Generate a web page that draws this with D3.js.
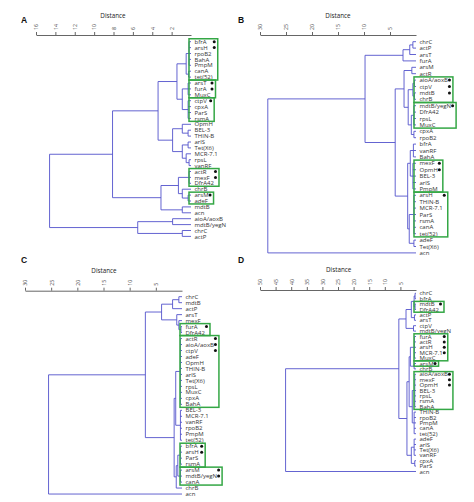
<!DOCTYPE html>
<html><head><meta charset="utf-8">
<script src="https://cdn.jsdelivr.net/npm/d3@7"></script>
<style>body{margin:0;background:#fff}</style>
</head><body>
<svg id="c" width="474" height="502"></svg>
<script>
// ---- DATA: trees as [mergeHeight, child, child, ...]; leaves are strings ----
const treeA = [14.6,
  [8.1,
    [3.4,
      [1.45,
        [0.5, [0.2,"bfrA","arsH","rpoB2","BahA","PmpM"], [0.25,"canA","tet(52)"]],
        [0.9, [0.3,"arsT","furA","MuxC"], [0.3,"ctpV","cpxA","ParS","rsmA"]]
      ],
      [1.9,
        [0.9,"OpmH",[0.3,"BEL-3","THIN-B"]],
        [0.9,[0.3,"arlS","Tet(X6)"],[0.5,"MCR-7.1",[0.2,"rpsL","vanRF"]]]
      ]
    ],
    [3.1,
      [1.3,[0.2,"actR","mexF","DfrA42"],[0.9,"chrB",[0.3,"arsM","adeF"]]],
      [0.9,"mdtB","acn"]
    ]
  ],
  [5.5,[1.9,"aioA/aoxB","mdtB/yegN"],[0.9,"chrC","actP"]]
];
const boxesA = [["bfrA","tet(52)"],["arsT","MuxC"],["ctpV","rsmA"],["actR","DfrA42"],["arsM","adeF"]];
const dotsA = ["bfrA","arsH","arsT","furA","ctpV","actR","mexF","arsM"];
const ticksA = [16,14,12,10,8,6,4,2];

const treeB = [28.5,
  [9.8,
    [2.5,[1.2,[0.6,"chrC","actP"],"arsT"],"furA"],
    [4.0,
      [2.3,
        [0.8,"arsM","actR"],
        [1.5,
          [0.6,[0.3,"aioA/aoxB","ctpV"],[0.3,"mdtB","chrB"]],
          [0.9,[0.4,"mdtB/yegN","DfrA42","rpsL","MuxC"],[0.4,"cpxA","rpoB2"]]
        ]
      ],
      [1.6,
        [1.1,[0.5,"bfrA","vanRF","BahA"],[0.6,"mexF","OpmH","BEL-3","arlS","PmpM"]],
        [1.3,[0.4,"arsH","THIN-B","MCR-7.1","ParS","rsmA","canA","tet(52)"],[0.4,"adeF","Tet(X6)"]]
      ]
    ]
  ],
  "acn"
];
const boxesB = [["aioA/aoxB","chrB"],["mdtB/yegN","MuxC"],["mexF","PmpM"],["arsH","tet(52)"]];
const dotsB = ["aioA/aoxB","ctpV","mdtB","mdtB/yegN","mexF","OpmH","arsH"];
const ticksB = [30,25,20,15,10,5];

const treeC = [25.5,
  [7.0,
    [3.9,[1.8,[0.6,"chrC","mdtB"],"actP"],[1.0,"arsT",[0.6,"mexF",[0.2,"furA","DfrA42"]]]],
    [1.5,
      [1.2,[0.3,"actR","aioA/aoxB","ctpV","adeF","OpmH","THIN-B","arlS","Tet(X6)","rpsL","MuxC","cpxA","BahA"],
           [0.3,"BEL-3","MCR-7.1","vanRF","rpoB2","PmpM","tet(52)"]],
      [1.1,[0.8,[0.3,"bfrA","arsH","ParS","rsmA"],[0.3,"arsM","mdtB/yegN","canA"]],"chrB"]
    ]
  ],
  "acn"
];
const boxesC = [["furA","DfrA42"],["actR","BahA"],["bfrA","rsmA"],["arsM","canA"]];
const dotsC = ["furA","actR","aioA/aoxB","ctpV","bfrA","arsH","arsM","mdtB/yegN"];
const ticksC = [30,25,20,15,10,5];

const treeD = [41.8,
  [5.5,
    [3.2,[1.5,[0.6,[0.3,"chrC","bfrA"],[0.3,"mdtB","DfrA42"]],[0.5,"actP","arsT"]],[0.8,"ctpV","mdtB/yegN"]],
    [2.9,
      [2.2,
        [1.8,[0.5,"furA","actR","arsH","MCR-7.1","MuxC"],[0.6,"arsM","chrB"]],
        [1.2,[0.4,"aioA/aoxB","mexF","OpmH","BEL-3","rpsL","rsmA","BahA"],[0.6,"THIN-B","rpoB2","PmpM","canA","tet(52)"]]
      ],
      [1.5,[0.6,"adeF","arlS","Tet(X6)","vanRF"],[0.4,"cpxA","ParS"]]
    ]
  ],
  "acn"
];
const boxesD = [["mdtB","DfrA42"],["furA","MuxC"],["arsM","arsM"],["aioA/aoxB","BahA"]];
const dotsD = ["mdtB","furA","actR","arsH","MCR-7.1","arsM","aioA/aoxB","mexF","OpmH"];
const ticksD = [50,45,40,35,30,25,20,15,10,5];

const panelNames = ["A","B","C","D"];
const axisTitle = "Distance";

// ---- LAYOUT ----
const layouts = [
  {tree:treeA, boxes:boxesA, dots:dotsA, ticks:ticksA, dmax:16, xL:36,  x0:191, axisY:35,  y0:41.7,  dy:5.9,  titleX:113,   titleY:18.3, letterX:21,  letterY:22.5},
  {tree:treeB, boxes:boxesB, dots:dotsB, ticks:ticksB, dmax:30, xL:260, x0:416, axisY:35,  y0:41.7,  dy:6.4,  titleX:338,   titleY:18,   letterX:238, letterY:22.5},
  {tree:treeC, boxes:boxesC, dots:dotsC, ticks:ticksC, dmax:30, xL:25,  x0:182, axisY:290.7,y0:296.7,dy:5.98, titleX:104,   titleY:273.3,letterX:21,  letterY:262.5},
  {tree:treeD, boxes:boxesD, dots:dotsD, ticks:ticksD, dmax:50, xL:260, x0:416, axisY:290, y0:293.3, dy:5.4,  titleX:338.7, titleY:271.8,letterX:238, letterY:262.5}
];

const svg = d3.select("#c");
const LINE = "#5252cc", GREEN = "#34a745", FONT = "'Open Sans','Noto Sans',sans-serif";

layouts.forEach((L, pi) => {
  const g = svg.append("g");
  const x = d3.scaleLinear().domain([L.dmax, 0]).range([L.xL, L.x0]);
  const root = d3.hierarchy(L.tree, d => Array.isArray(d) ? d.slice(1) : null);
  root.each(n => { n.h = Array.isArray(n.data) ? n.data[0] : 0; n.name = Array.isArray(n.data) ? null : n.data; });
  const leaves = root.leaves();
  const yOf = {};
  leaves.forEach((n, i) => { n.y = L.y0 + i * L.dy; yOf[n.name] = n.y; });
  root.eachAfter(n => { if (n.children) { n.y = (d3.min(n.children, c => c.y) + d3.max(n.children, c => c.y)) / 2; } });

  // panel letter & title
  g.append("text").attr("x", L.letterX).attr("y", L.letterY).text(panelNames[pi])
    .attr("font-family", "'Liberation Sans',Arial,sans-serif").attr("font-weight", "bold").attr("font-size", 8.5).attr("fill", "#111");
  g.append("text").attr("x", L.titleX).attr("y", L.titleY).attr("text-anchor", "middle").text(axisTitle)
    .attr("font-family", FONT).attr("font-size", 6.3).attr("fill", "#222");

  // axis
  const ax = d3.axisTop(x).tickValues(L.ticks).tickSize(3).tickSizeOuter(0).tickFormat(d3.format("d"));
  const ag = g.append("g").attr("transform", `translate(0,${L.axisY})`).call(ax);
  ag.attr("font-family", null).attr("font-size", null);
  ag.select(".domain").attr("stroke", "#555").attr("stroke-width", 0.9);
  ag.selectAll(".tick line").attr("stroke", "#555").attr("stroke-width", 0.9);
  ag.selectAll(".tick text").attr("transform", "rotate(-90)").attr("x", 5).attr("y", 0).attr("dy", "0.35em")
    .attr("text-anchor", "start").attr("font-family", FONT).attr("font-size", 5.3).attr("fill", "#444");

  // tree lines
  g.append("g").selectAll("line").data(root.descendants().filter(n => n.children)).join("line")
    .attr("x1", n => x(n.h)).attr("x2", n => x(n.h))
    .attr("y1", n => d3.min(n.children, c => c.y)).attr("y2", n => d3.max(n.children, c => c.y))
    .attr("stroke", LINE).attr("stroke-width", 0.9);
  g.append("g").selectAll("line").data(root.links()).join("line")
    .attr("x1", l => x(l.source.h)).attr("x2", l => x(l.target.h))
    .attr("y1", l => l.target.y).attr("y2", l => l.target.y)
    .attr("stroke", LINE).attr("stroke-width", 0.9);

  // leaf labels
  const lx = x(0) + 3.5;
  const widths = {};
  g.append("g").selectAll("text").data(leaves).join("text")
    .attr("x", lx).attr("y", n => n.y).attr("dy", "0.35em").text(n => n.name)
    .attr("font-family", FONT).attr("font-size", 6).attr("fill", "#333")
    .each(function (n) { widths[n.name] = this.getComputedTextLength(); });

  // boxes & dots
  L.boxes.forEach(([a, b]) => {
    const names = leaves.map(n => n.name).slice(leaves.findIndex(n => n.name === a), leaves.findIndex(n => n.name === b) + 1);
    const maxW = d3.max(names, nm => widths[nm]);
    const right = lx + maxW + 5;
    g.append("rect").attr("x", x(0) - 2).attr("y", yOf[a] - L.dy / 2).attr("width", right - (x(0) - 2))
      .attr("height", yOf[b] - yOf[a] + L.dy).attr("fill", "none").attr("stroke", GREEN).attr("stroke-width", 1.5);
    names.filter(nm => L.dots.includes(nm)).forEach(nm => {
      let dx = right - 3.5;
      if (lx + widths[nm] > dx - 1.5) dx = right;
      g.append("circle").attr("cx", dx).attr("cy", yOf[nm]).attr("r", 1.5).attr("fill", "#111");
    });
  });
});
</script>
</body></html>
